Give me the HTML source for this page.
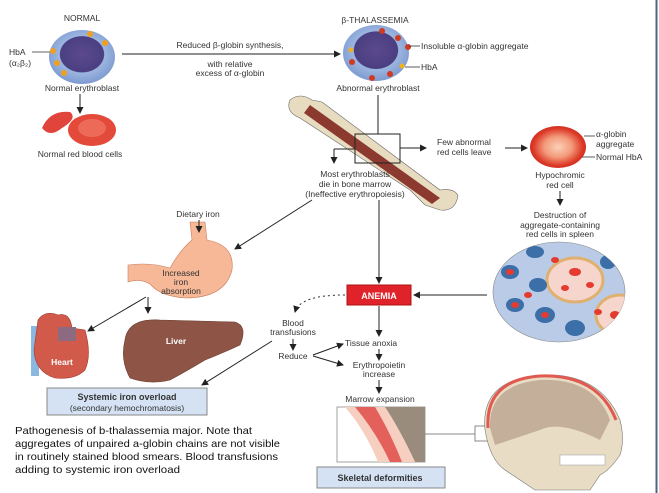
<!DOCTYPE html>
<html><head><meta charset="utf-8"><style>
html,body{margin:0;padding:0;background:#fff}
svg{display:block}
text{font-family:"Liberation Sans",sans-serif;fill:#333;font-size:8.5px}
.c{text-anchor:middle}
.cap{font-size:10.2px;fill:#111}
</style></head><body>
<svg width="659" height="493" viewBox="0 0 659 493" xmlns="http://www.w3.org/2000/svg">
<defs>
<marker id="a" markerWidth="7" markerHeight="7" refX="6" refY="3.5" orient="auto"><path d="M0,0 L7,3.5 L0,7 z" fill="#222"/></marker>
<radialGradient id="cell" cx="50%" cy="45%" r="55%"><stop offset="0" stop-color="#5b4a8c"/><stop offset=".6" stop-color="#4a3f82"/><stop offset=".62" stop-color="#9cb6e0"/><stop offset="1" stop-color="#7e9ad0"/></radialGradient>
<radialGradient id="rc" cx="50%" cy="50%" r="55%"><stop offset="0" stop-color="#fbd0b8"/><stop offset=".45" stop-color="#f39a7a"/><stop offset=".8" stop-color="#dd3a28"/><stop offset="1" stop-color="#c52a1c"/></radialGradient>
</defs>
<line x1="656.5" y1="0" x2="656.5" y2="493" stroke="#4d6482" stroke-width="2"/>

<text x="82" y="21" class="c">NORMAL</text>
<ellipse cx="82" cy="57" rx="33" ry="27" fill="url(#cell)"/>
<g fill="#f0a020"><circle cx="90" cy="34" r="3"/><circle cx="105" cy="43" r="3"/><circle cx="53" cy="51" r="3"/><circle cx="57" cy="63" r="3"/><circle cx="64" cy="73" r="3"/></g>
<line x1="32" y1="52" x2="50" y2="52" stroke="#333" stroke-width=".8"/>
<text x="9" y="55">HbA</text><text x="9" y="66">(α₂β₂)</text>
<text x="82" y="91" class="c">Normal erythroblast</text>
<line x1="80" y1="94" x2="80" y2="113" stroke="#222" marker-end="url(#a)"/>
<path d="M42,128 Q50,110 70,112 Q78,118 62,128 Q50,138 42,128z" fill="#e0443a"/>
<ellipse cx="92" cy="130" rx="24" ry="16" fill="#e44a3a"/>
<ellipse cx="92" cy="128" rx="14" ry="9" fill="#ee6a58"/>
<text x="80" y="157" class="c">Normal red blood cells</text>

<line x1="122" y1="54" x2="340" y2="54" stroke="#222" marker-end="url(#a)"/>
<text x="230" y="48" class="c">Reduced β-globin synthesis,</text>
<text x="230" y="67" class="c">with relative</text>
<text x="230" y="76" class="c">excess of α-globin</text>

<text x="375" y="23" class="c">β-THALASSEMIA</text>
<ellipse cx="376" cy="53" rx="33" ry="28" fill="url(#cell)"/>
<g fill="#d03a20"><circle cx="382" cy="31" r="3"/><circle cx="398" cy="38" r="3"/><circle cx="408" cy="47" r="3"/><circle cx="352" cy="62" r="3"/><circle cx="372" cy="78" r="3"/><circle cx="390" cy="74" r="3"/></g>
<g fill="#f0b020"><circle cx="351" cy="50" r="2.5"/><circle cx="402" cy="66" r="2.5"/></g>
<line x1="409" y1="46" x2="420" y2="46" stroke="#333" stroke-width=".8"/><line x1="405" y1="67" x2="420" y2="67" stroke="#333" stroke-width=".8"/>
<text x="421" y="49">Insoluble α-globin aggregate</text>
<text x="421" y="70">HbA</text>
<text x="378" y="91" class="c">Abnormal erythroblast</text>
<line x1="378" y1="95" x2="378" y2="134" stroke="#222"/>

<path d="M290,100 Q300,92 312,100 L322,102 L440,190 Q455,188 458,196 Q455,212 440,210 L425,205 L410,190 L300,118 Q285,112 290,100z" fill="#e8dcc0" stroke="#666" stroke-width=".6"/>
<path d="M310,105 L440,198 L432,204 L304,113z" fill="#8c3a30"/>
<rect x="355" y="134" width="45" height="29" fill="none" stroke="#222"/>
<line x1="400" y1="148" x2="426" y2="148" stroke="#222" marker-end="url(#a)"/>
<text x="437" y="145">Few abnormal</text><text x="437" y="155">red cells leave</text>
<line x1="505" y1="148" x2="527" y2="148" stroke="#222" marker-end="url(#a)"/>
<line x1="355" y1="149" x2="334" y2="149" stroke="#222"/>
<line x1="334" y1="149" x2="334" y2="163" stroke="#222" marker-end="url(#a)"/>
<text x="355" y="177" class="c">Most erythroblasts</text>
<text x="355" y="187" class="c">die in bone marrow</text>
<text x="355" y="197" class="c">(Ineffective erythropoiesis)</text>
<line x1="312" y1="200" x2="235" y2="249" stroke="#222" marker-end="url(#a)"/>
<line x1="379" y1="200" x2="379" y2="283" stroke="#222" marker-end="url(#a)"/>

<ellipse cx="558" cy="147" rx="28" ry="21" fill="url(#rc)"/>
<line x1="584" y1="136" x2="595" y2="136" stroke="#333" stroke-width=".8"/><line x1="582" y1="157" x2="595" y2="157" stroke="#333" stroke-width=".8"/>
<text x="596" y="137">α-globin</text><text x="596" y="147">aggregate</text><text x="596" y="160">Normal HbA</text>
<text x="560" y="178" class="c">Hypochromic</text><text x="560" y="188" class="c">red cell</text>
<line x1="560" y1="191" x2="560" y2="205" stroke="#222" marker-end="url(#a)"/>
<text x="560" y="218" class="c">Destruction of</text><text x="560" y="228" class="c">aggregate-containing</text><text x="560" y="237" class="c">red cells in spleen</text>

<clipPath id="sp"><ellipse cx="559" cy="292" rx="66" ry="50"/></clipPath>
<ellipse cx="559" cy="292" rx="66" ry="50" fill="#b9cbe6" stroke="#888" stroke-width=".6"/>
<g clip-path="url(#sp)">
<ellipse cx="575" cy="280" rx="28" ry="22" fill="#f6d6cc" stroke="#e0b070" stroke-width="3"/>
<ellipse cx="620" cy="315" rx="24" ry="20" fill="#f6d6cc" stroke="#e0b070" stroke-width="3"/>
<g fill="#3c6ea8"><ellipse cx="510" cy="272" rx="9" ry="7"/><ellipse cx="535" cy="252" rx="9" ry="6"/><ellipse cx="515" cy="305" rx="9" ry="7"/><ellipse cx="545" cy="315" rx="10" ry="8"/><ellipse cx="575" cy="328" rx="10" ry="8"/><ellipse cx="608" cy="262" rx="8" ry="7"/><ellipse cx="538" cy="285" rx="9" ry="7"/></g>
<g fill="#e53a30"><ellipse cx="510" cy="272" rx="4" ry="3"/><ellipse cx="515" cy="305" rx="4" ry="3"/><ellipse cx="545" cy="315" rx="4" ry="3"/><ellipse cx="575" cy="272" rx="6" ry="4"/><ellipse cx="565" cy="288" rx="4" ry="3"/><ellipse cx="590" cy="285" rx="4" ry="3"/><ellipse cx="615" cy="315" rx="5" ry="4"/><ellipse cx="528" cy="295" rx="4" ry="3"/><ellipse cx="598" cy="312" rx="4" ry="3"/><ellipse cx="555" cy="260" rx="4" ry="3"/></g>
</g>
<line x1="487" y1="295" x2="414" y2="295" stroke="#222" marker-end="url(#a)"/>

<rect x="347" y="285" width="64" height="20" fill="#e0232a" stroke="#b01010"/>
<text x="379" y="299" class="c" style="fill:#fff;font-weight:bold;font-size:9px">ANEMIA</text>
<path d="M345,295 Q300,295 295,312" fill="none" stroke="#333" stroke-dasharray="2,3" marker-end="url(#a)"/>
<text x="293" y="326" class="c">Blood</text><text x="293" y="335" class="c">transfusions</text>
<line x1="293" y1="339" x2="293" y2="350" stroke="#222" marker-end="url(#a)"/>
<text x="293" y="359" class="c">Reduce</text>
<line x1="313" y1="355" x2="343" y2="344" stroke="#222" marker-end="url(#a)"/>
<line x1="313" y1="356" x2="343" y2="365" stroke="#222" marker-end="url(#a)"/>
<line x1="379" y1="306" x2="379" y2="336" stroke="#222" marker-end="url(#a)"/>
<text x="345" y="346">Tissue anoxia</text>
<line x1="379" y1="349" x2="379" y2="360" stroke="#222" marker-end="url(#a)"/>
<text x="379" y="368" class="c">Erythropoietin</text><text x="379" y="377" class="c">increase</text>
<line x1="379" y1="380" x2="379" y2="393" stroke="#222" marker-end="url(#a)"/>
<text x="380" y="402" class="c">Marrow expansion</text>
<line x1="272" y1="341" x2="202" y2="385" stroke="#222" marker-end="url(#a)"/>

<rect x="337" y="407" width="88" height="55" fill="#fff" stroke="#666" stroke-width=".6"/>
<path d="M385,407 L425,407 L425,462 L415,462 Q400,430 385,407z" fill="#9a8c7c"/>
<path d="M345,407 L385,407 Q400,430 415,462 L378,462 Q365,430 345,407z" fill="#f6cfc0"/>
<path d="M355,407 L375,407 Q390,432 402,462 L390,462 Q376,432 355,407z" fill="#e4605a"/>
<rect x="317" y="467" width="128" height="21" fill="#d4e2f4" stroke="#888"/>
<text x="380" y="481" class="c" style="font-weight:bold;font-size:9px">Skeletal deformities</text>
<line x1="425" y1="434" x2="475" y2="434" stroke="#888"/>
<rect x="475" y="426" width="25" height="15" fill="none" stroke="#888"/>

<path d="M485,430 Q480,380 540,375 Q600,372 620,420 Q625,440 620,455 Q610,470 600,475 L590,490 L535,490 Q520,480 505,470 Q490,460 485,430z" fill="#e8dcc4" stroke="#777" stroke-width=".6"/>
<path d="M490,428 Q488,385 540,380 Q595,378 610,420 L600,440 Q560,420 540,430 Q510,440 495,445z" fill="#c4b09a"/>
<path d="M488,428 Q485,380 540,376 Q598,374 616,420" fill="none" stroke="#e05a52" stroke-width="3"/>
<rect x="560" y="455" width="45" height="10" fill="#fff" stroke="#999" stroke-width=".5"/>

<path d="M190,222 L205,222 L207,240 Q235,245 232,270 Q225,298 185,298 Q160,296 150,284 Q140,278 128,282 L128,265 Q150,262 170,268 Q180,250 192,240z" fill="#f6b896" stroke="#c88060" stroke-width=".6"/>
<text x="198" y="217" class="c">Dietary iron</text>
<line x1="199" y1="220" x2="199" y2="232" stroke="#222" marker-end="url(#a)"/>
<text x="181" y="276" class="c">Increased</text><text x="181" y="285" class="c">iron</text><text x="181" y="294" class="c">absorption</text>
<line x1="148" y1="297" x2="148" y2="313" stroke="#222" marker-end="url(#a)"/>
<line x1="146" y1="297" x2="88" y2="331" stroke="#222" marker-end="url(#a)"/>

<rect x="31" y="326" width="8" height="50" fill="#8ab8e0"/>
<path d="M38,320 Q45,310 58,315 Q70,312 72,328 L85,330 Q92,355 85,370 Q75,380 55,378 Q35,372 34,350z" fill="#d25a4a" stroke="#a03a30" stroke-width=".6"/>
<rect x="58" y="327" width="18" height="14" fill="#8c6a80"/>
<text x="62" y="365" class="c" style="fill:#fff;font-weight:bold">Heart</text>

<path d="M125,340 Q128,318 160,320 L235,322 Q248,326 240,345 Q225,352 205,360 Q185,372 170,380 Q150,385 130,378 Q120,360 125,340z" fill="#8e5446" stroke="#6a3a30" stroke-width=".6"/>
<text x="176" y="344" class="c" style="fill:#fff;font-weight:bold">Liver</text>

<rect x="47" y="388" width="160" height="27" fill="#d4e2f4" stroke="#888"/>
<text x="127" y="400" class="c" style="font-weight:bold;font-size:9px">Systemic iron overload</text>
<text x="127" y="411" class="c">(secondary hemochromatosis)</text>

<text x="15" y="434" class="cap" textLength="237" lengthAdjust="spacingAndGlyphs">Pathogenesis of b-thalassemia major. Note that</text>
<text x="15" y="447" class="cap" textLength="265" lengthAdjust="spacingAndGlyphs">aggregates of unpaired a-globin chains are not visible</text>
<text x="15" y="460" class="cap" textLength="263" lengthAdjust="spacingAndGlyphs">in routinely stained blood smears. Blood transfusions</text>
<text x="15" y="473" class="cap" textLength="165" lengthAdjust="spacingAndGlyphs">adding to systemic iron overload</text>
</svg>
</body></html>
